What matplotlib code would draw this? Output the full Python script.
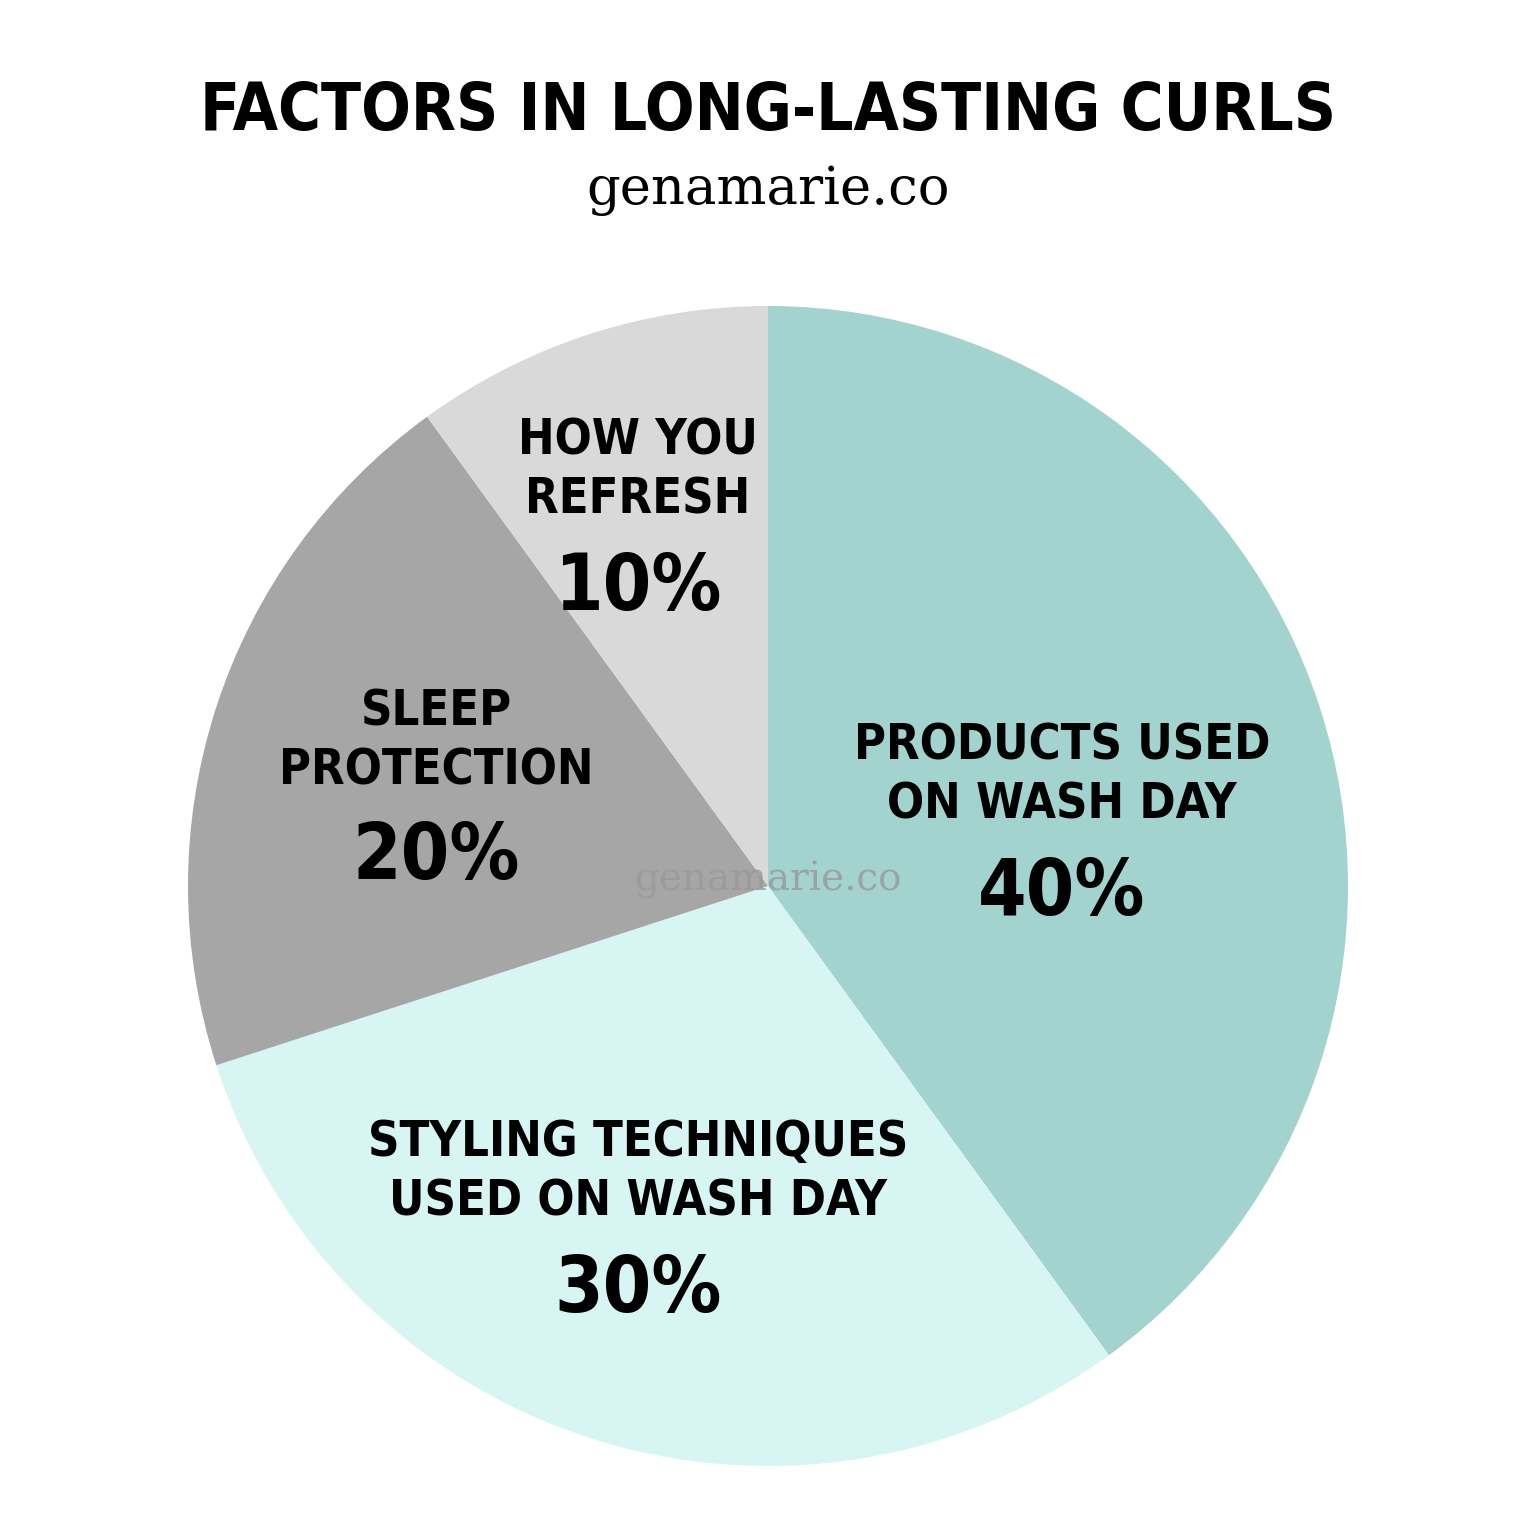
import matplotlib.pyplot as plt

shares = [40, 30, 20, 10]
labels = ["PRODUCTS USED\nON WASH DAY", "STYLING TECHNIQUES\nUSED ON WASH DAY",
          "SLEEP\nPROTECTION", "HOW YOU\nREFRESH"]
colors = ["#a2d3cf", "#d6f5f3", "#a6a6a6", "#d9d9d9"]
# label / pct centres in pixel coords (from top)
label_pos = [(1062, 775), (638, 1172), (436, 741), (638, 470)]
pct_pos = [(1062, 893), (638, 1290), (436, 857), (638, 588)]

H = 1536
cond = dict(family="DejaVu Sans", fontstretch="condensed", fontweight="bold")

fig = plt.figure(figsize=(15.36, 15.36), dpi=100)
ax = fig.add_axes([0, 0, 1, 1])

ax.pie(shares, colors=colors, startangle=90, counterclock=False,
       center=(768, H - 886), radius=580, frame=True)
ax.set_xlim(0, H)
ax.set_ylim(0, H)
ax.set_aspect("equal")
ax.axis("off")

for lab, (x, y) in zip(labels, label_pos):
    ax.text(x, H - y, lab, ha="center", va="center", fontsize=35,
            linespacing=1.3, **cond)
for s, (x, y) in zip(shares, pct_pos):
    ax.text(x, H - y, f"{s}%", ha="center", va="center", fontsize=56, **cond)

ax.text(768, H - 880, "genamarie.co", ha="center", va="center",
        family="DejaVu Serif", fontsize=28, color="#999999", alpha=0.8)

ax.text(768, H - 112, "FACTORS IN LONG-LASTING CURLS", ha="center", va="center",
        fontsize=47, **cond)
ax.text(768, H - 190, "genamarie.co", ha="center", va="center",
        family="DejaVu Serif", fontsize=38)

fig.savefig("out.png", dpi=100, facecolor="white")
